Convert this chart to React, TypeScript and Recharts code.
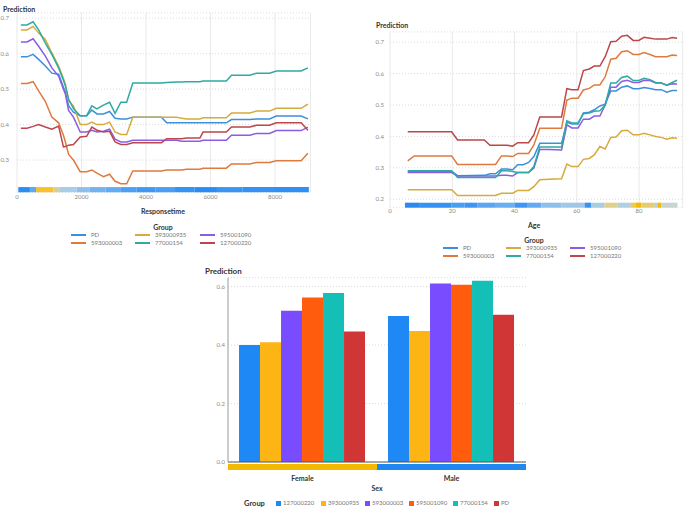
import React from 'react';
import {
  LineChart,
  Line,
  BarChart,
  Bar,
  XAxis,
  YAxis,
  CartesianGrid,
  ReferenceArea,
} from 'recharts';

// ---- shared groups ----
const lineGroups = ['PD', '393000935', '595001090', '593000003', '77000154', '127000220'];
const lineColors: Record<string, string> = {
  PD: '#3d8fdc',
  '393000935': '#d6aa3c',
  '595001090': '#8a5de2',
  '593000003': '#de7a3e',
  '77000154': '#2eaaa2',
  '127000220': '#bb474b',
};

// ---- Responsetime PDP ----
const responseTimes = [120, 310, 500, 670, 880, 1080, 1290, 1440, 1500, 1600, 1750, 1960, 2160, 2320, 2480, 2680, 2870, 3040, 3220, 3400, 3590, 4480, 4640, 4950, 5100, 5260, 5670, 5770, 6490, 6650, 7220, 7420, 7830, 8040, 8810, 9020];
const rtPD = [0.591, 0.591, 0.598, 0.584, 0.565, 0.545, 0.542, 0.505, 0.491, 0.453, 0.435, 0.425, 0.425, 0.441, 0.43, 0.43, 0.437, 0.418, 0.416, 0.416, 0.421, 0.421, 0.405, 0.405, 0.405, 0.405, 0.405, 0.405, 0.405, 0.414, 0.414, 0.416, 0.416, 0.424, 0.424, 0.416];
const rt393000935 = [0.667, 0.667, 0.677, 0.658, 0.64, 0.602, 0.565, 0.53, 0.514, 0.467, 0.453, 0.4, 0.4, 0.407, 0.4, 0.4, 0.407, 0.379, 0.372, 0.372, 0.421, 0.421, 0.421, 0.421, 0.418, 0.416, 0.416, 0.419, 0.419, 0.433, 0.433, 0.438, 0.438, 0.446, 0.446, 0.458];
const rt595001090 = [0.633, 0.633, 0.642, 0.621, 0.593, 0.56, 0.537, 0.5, 0.486, 0.44, 0.421, 0.379, 0.379, 0.384, 0.379, 0.381, 0.387, 0.359, 0.351, 0.351, 0.356, 0.356, 0.356, 0.356, 0.353, 0.353, 0.353, 0.356, 0.356, 0.37, 0.37, 0.375, 0.375, 0.383, 0.383, 0.393];
const rt593000003 = [0.516, 0.516, 0.521, 0.495, 0.465, 0.421, 0.405, 0.37, 0.351, 0.316, 0.3, 0.267, 0.267, 0.272, 0.263, 0.253, 0.26, 0.24, 0.233, 0.233, 0.269, 0.269, 0.272, 0.272, 0.272, 0.274, 0.274, 0.277, 0.277, 0.289, 0.289, 0.293, 0.293, 0.298, 0.298, 0.319];
const rt77000154 = [0.681, 0.681, 0.69, 0.667, 0.63, 0.598, 0.56, 0.525, 0.509, 0.472, 0.445, 0.425, 0.425, 0.453, 0.444, 0.455, 0.463, 0.432, 0.463, 0.463, 0.517, 0.517, 0.519, 0.52, 0.52, 0.521, 0.521, 0.523, 0.523, 0.539, 0.539, 0.545, 0.545, 0.551, 0.551, 0.56];
const rt127000220 = [0.39, 0.39, 0.395, 0.4, 0.393, 0.387, 0.396, 0.337, 0.338, 0.342, 0.344, 0.365, 0.367, 0.393, 0.384, 0.379, 0.381, 0.351, 0.344, 0.344, 0.349, 0.349, 0.36, 0.36, 0.36, 0.362, 0.362, 0.379, 0.379, 0.393, 0.393, 0.398, 0.398, 0.405, 0.405, 0.384];
const rtTicks = [0, 2000, 4000, 6000, 8000];
const rtYTicks = [0.3, 0.4, 0.5, 0.6, 0.7];
// density strip under the curves: [from, to]
const rtRugRanges = [[40, 400], [400, 590], [590, 1130], [1130, 1330], [1330, 1850], [1850, 2260], [2260, 2750], [2750, 3200], [3200, 3700], [3700, 4300], [4300, 4900], [4900, 5500], [5500, 6200], [6200, 7000], [7000, 8000], [8000, 9050]];
const rtRugColors = ['#2b8cf2', '#5ea9ef', '#f7c12e', '#d6cf9c', '#a8cde6', '#8cc0ec', '#72b3ef', '#64acf0', '#4d9ff2', '#3f98f2', '#4a9df2', '#3594f2', '#2a8cf2', '#3a95f2', '#3692f2', '#2f8ff2'];

// ---- Age PDP ----
const ages = [5.7, 7.8, 19.8, 21.7, 30.3, 32.1, 33.9, 35.8, 37.6, 39.4, 41.0, 42.8, 44.5, 46.2, 48.1, 51.1, 55.1, 56.8, 58.4, 60.4, 62.1, 64.0, 65.6, 67.4, 69.1, 70.9, 72.6, 74.4, 76.2, 78.1, 79.9, 81.6, 83.5, 85.3, 87.1, 88.9, 90.6, 92.2];
const agePD = [0.288, 0.288, 0.288, 0.275, 0.276, 0.281, 0.281, 0.296, 0.296, 0.294, 0.31, 0.31, 0.317, 0.336, 0.378, 0.378, 0.378, 0.445, 0.44, 0.44, 0.475, 0.477, 0.485, 0.497, 0.503, 0.545, 0.545, 0.557, 0.561, 0.552, 0.552, 0.556, 0.553, 0.549, 0.549, 0.541, 0.546, 0.546];
const age393000935 = [0.23, 0.23, 0.23, 0.212, 0.212, 0.212, 0.212, 0.219, 0.219, 0.219, 0.228, 0.228, 0.228, 0.24, 0.262, 0.264, 0.265, 0.312, 0.304, 0.304, 0.327, 0.33, 0.341, 0.368, 0.36, 0.397, 0.398, 0.418, 0.42, 0.405, 0.405, 0.41, 0.405, 0.4, 0.397, 0.391, 0.396, 0.394];
const age595001090 = [0.285, 0.285, 0.285, 0.274, 0.274, 0.274, 0.274, 0.276, 0.276, 0.274, 0.285, 0.285, 0.285, 0.299, 0.358, 0.358, 0.357, 0.437, 0.427, 0.427, 0.455, 0.455, 0.465, 0.465, 0.5, 0.557, 0.557, 0.575, 0.579, 0.572, 0.572, 0.579, 0.578, 0.57, 0.57, 0.563, 0.568, 0.567];
const age593000003 = [0.322, 0.338, 0.338, 0.311, 0.311, 0.311, 0.311, 0.338, 0.338, 0.336, 0.346, 0.346, 0.346, 0.373, 0.426, 0.426, 0.426, 0.516, 0.522, 0.522, 0.548, 0.553, 0.564, 0.564, 0.59, 0.646, 0.649, 0.67, 0.673, 0.661, 0.661, 0.667, 0.661, 0.654, 0.654, 0.654, 0.659, 0.658];
const age77000154 = [0.291, 0.291, 0.291, 0.269, 0.269, 0.269, 0.269, 0.291, 0.291, 0.288, 0.285, 0.285, 0.285, 0.304, 0.366, 0.366, 0.366, 0.45, 0.443, 0.443, 0.472, 0.475, 0.48, 0.482, 0.5, 0.57, 0.57, 0.588, 0.592, 0.578, 0.578, 0.585, 0.581, 0.572, 0.57, 0.563, 0.572, 0.579];
const age127000220 = [0.415, 0.415, 0.415, 0.389, 0.389, 0.372, 0.372, 0.372, 0.372, 0.369, 0.38, 0.38, 0.38, 0.405, 0.462, 0.462, 0.462, 0.552, 0.549, 0.549, 0.61, 0.615, 0.624, 0.624, 0.654, 0.702, 0.703, 0.719, 0.722, 0.706, 0.706, 0.716, 0.713, 0.71, 0.71, 0.71, 0.715, 0.713];
const ageTicks = [0, 20, 40, 60, 80];
const ageYTicks = [0.2, 0.3, 0.4, 0.5, 0.6, 0.7];
const ageRugRanges = [[4.8, 9.6], [9.6, 19.8], [19.8, 24], [24, 28], [28, 34], [34, 40], [40, 44], [44, 48.6], [48.6, 55], [55, 62.5], [62.5, 64.6], [64.6, 68.9], [68.9, 73], [73, 77.3], [77.3, 79], [79, 80.7], [80.7, 85], [85, 86], [86, 87.1], [87.1, 92.3]];
const ageRugColors = ['#2a8af0', '#3592f2', '#4a9ef2', '#3d97f2', '#5aa7f0', '#6aaff0', '#3d96f2', '#63aaf0', '#8cc0ea', '#9ec8e6', '#3a93f2', '#a8cce0', '#e0d08a', '#b0cfe0', '#f0c850', '#f5b800', '#e6cc70', '#b0cfe0', '#f5b800', '#c8d4d0'];

// ---- Sex bars ----
const sexes = ['Female', 'Male'];
const barGroups = ['127000220', '393000935', '593000003', '595001090', '77000154', 'PD'];
const barColors: Record<string, string> = {
  '127000220': '#1e88f5',
  '393000935': '#fdb515',
  '593000003': '#7a4cff',
  '595001090': '#ff5c0d',
  '77000154': '#14bfb8',
  PD: '#d03636',
};
const sex127000220 = [0.4, 0.499];
const sex393000935 = [0.409, 0.448];
const sex593000003 = [0.517, 0.61];
const sex595001090 = [0.5625, 0.606];
const sex77000154 = [0.578, 0.6195];
const sexPD = [0.446, 0.503];
const sexRugColors = ['#f5b800', '#1e88f0'];
const sexYTicks = [0, 0.2, 0.4, 0.6];

const FONT = 'Lato, "Open Sans", sans-serif';
const tickStyle = { fontSize: 6, fill: '#8a8a8a', fontFamily: FONT };

const rtData = responseTimes.map((x, i) => ({
  x,
  PD: rtPD[i],
  '393000935': rt393000935[i],
  '595001090': rt595001090[i],
  '593000003': rt593000003[i],
  '77000154': rt77000154[i],
  '127000220': rt127000220[i],
}));

const ageData = ages.map((x, i) => ({
  x,
  PD: agePD[i],
  '393000935': age393000935[i],
  '595001090': age595001090[i],
  '593000003': age593000003[i],
  '77000154': age77000154[i],
  '127000220': age127000220[i],
}));

const sexData = sexes.map((sex, i) => ({
  sex,
  '127000220': sex127000220[i],
  '393000935': sex393000935[i],
  '593000003': sex593000003[i],
  '595001090': sex595001090[i],
  '77000154': sex77000154[i],
  PD: sexPD[i],
}));

const Label = ({ x, y, text, bold = true, size = 7, center = false, color = '#333' }: any) => (
  <div
    style={{
      position: 'absolute',
      left: x,
      top: y - size * 0.6,
      fontSize: size,
      lineHeight: `${size * 1.2}px`,
      fontWeight: bold ? 700 : 400,
      color,
      whiteSpace: 'nowrap',
      transform: center ? 'translateX(-50%)' : undefined,
    }}
  >
    {text}
  </div>
);

// 3x2 legend with line icons
const LineLegend = ({ cols, rowY }: { cols: number[]; rowY: number[] }) => (
  <>
    {lineGroups.map((g, i) => {
      const cx = cols[i % 3];
      const cy = rowY[Math.floor(i / 3)];
      return (
        <React.Fragment key={g}>
          <div
            style={{
              position: 'absolute',
              left: cx,
              top: cy - 0.75,
              width: 15,
              height: 1.5,
              background: lineColors[g],
            }}
          />
          <Label x={cx + 20} y={cy} text={g} bold={false} size={6} color="#777" />
        </React.Fragment>
      );
    })}
  </>
);

const PdpChart = ({ data, width, height, margin, xDomain, xTicks, yDomain, yTicks, yWidth, yTickSize, xTickMargin, rugRanges, rugColors, rugY }: any) => (
  <LineChart width={width} height={height} data={data} margin={margin}>
    <CartesianGrid horizontal={false} stroke="#e9e9e9" />
    <CartesianGrid vertical={false} stroke="#dcdcdc" strokeDasharray="1 2" />
    <XAxis
      dataKey="x"
      type="number"
      domain={xDomain}
      ticks={xTicks}
      axisLine={false}
      tickLine={false}
      tickSize={0}
      tickMargin={xTickMargin}
      height={14}
      tick={tickStyle}
      allowDataOverflow
    />
    <YAxis
      type="number"
      domain={yDomain}
      ticks={yTicks}
      axisLine={false}
      tickLine={false}
      tickSize={yTickSize}
      tickMargin={2}
      width={yWidth}
      tick={tickStyle}
      allowDataOverflow
    />
    {rugRanges.map((r: number[], i: number) => (
      <ReferenceArea
        key={i}
        x1={r[0]}
        x2={r[1]}
        y1={rugY[0]}
        y2={rugY[1]}
        fill={rugColors[i]}
        fillOpacity={1}
        stroke="none"
      />
    ))}
    {lineGroups.map((g) => (
      <Line
        key={g}
        type="linear"
        dataKey={g}
        stroke={lineColors[g]}
        strokeWidth={1.5}
        dot={false}
        isAnimationActive={false}
      />
    ))}
  </LineChart>
);

export default function App() {
  return (
    <div style={{ position: 'relative', width: 685, height: 509, background: '#fff', fontFamily: FONT, overflow: 'hidden' }}>
      <style>{'body{margin:0}'}</style>

      {/* Responsetime */}
      <div style={{ position: 'absolute', left: 0, top: 0 }}>
        <PdpChart
          data={rtData}
          width={330}
          height={210}
          margin={{ top: 12.9, right: 19.5, bottom: 3.7, left: 0 }}
          xDomain={[0, 9100]}
          xTicks={rtTicks}
          yDomain={[0.209, 0.715]}
          yTicks={rtYTicks}
          yWidth={17}
          yTickSize={6}
          xTickMargin={2.2}
          rugRanges={rtRugRanges}
          rugColors={rtRugColors}
          rugY={[0.209, 0.2237]}
        />
      </div>
      <Label x={3} y={9} text="Prediction" />
      <Label x={163} y={211} text="Responsetime" center />
      <Label x={163} y={227} text="Group" center />
      <LineLegend cols={[71, 135, 200]} rowY={[235, 243]} />

      {/* Age */}
      <div style={{ position: 'absolute', left: 340, top: 20 }}>
        <PdpChart
          data={ageData}
          width={345}
          height={215}
          margin={{ top: 11.9, right: 2.3, bottom: 13.3, left: 0 }}
          xDomain={[0, 94]}
          xTicks={ageTicks}
          yDomain={[0.173, 0.733]}
          yTicks={ageYTicks}
          yWidth={50}
          yTickSize={4}
          xTickMargin={1.5}
          rugRanges={ageRugRanges}
          rugColors={ageRugColors}
          rugY={[0.173, 0.189]}
        />
      </div>
      <Label x={376} y={25} text="Prediction" />
      <Label x={534} y={225} text="Age" center />
      <Label x={534} y={240} text="Group" center />
      <LineLegend cols={[443, 506, 570]} rowY={[248, 256]} />

      {/* Sex */}
      <div style={{ position: 'absolute', left: 200, top: 260 }}>
        <BarChart
          width={340}
          height={230}
          data={sexData}
          margin={{ top: 17.7, right: 14, bottom: 3, left: 0 }}
          barCategoryGap="7.4%"
          barGap={0}
        >
          <CartesianGrid vertical={false} stroke="#dcdcdc" strokeDasharray="1 2" />
          <XAxis
            dataKey="sex"
            axisLine={{ stroke: '#555', strokeWidth: 1 }}
            tickLine={false}
            tickSize={0}
            tickMargin={14}
            height={25}
            tick={{ fontSize: 7, fill: '#333', fontWeight: 700, fontFamily: FONT }}
          />
          <YAxis
            type="number"
            domain={[0, 0.63]}
            ticks={sexYTicks}
            tickFormatter={(v: number) => v.toFixed(1)}
            axisLine={{ stroke: '#9a9a9a' }}
            tickLine={false}
            tickSize={0}
            tickMargin={3}
            width={28}
            tick={tickStyle}
          />
          {sexes.map((s, i) => (
            <ReferenceArea
              key={s}
              x1={s}
              x2={s}
              y1={-0.007}
              y2={-0.027}
              fill={sexRugColors[i]}
              fillOpacity={1}
              stroke="none"
              ifOverflow="visible"
            />
          ))}
          {barGroups.map((g) => (
            <Bar key={g} dataKey={g} fill={barColors[g]} isAnimationActive={false} />
          ))}
        </BarChart>
      </div>
      <Label x={205} y={272} text="Prediction" size={8} />
      <Label x={377} y={488} text="Sex" center />
      <Label x={244} y={503} text="Group" size={7.5} />
      {barGroups.map((g, i) => {
        const sx = [276, 321, 365, 409, 453, 494][i];
        return (
          <React.Fragment key={g}>
            <div style={{ position: 'absolute', left: sx, top: 500.5, width: 5, height: 5, background: barColors[g] }} />
            <Label x={sx + 7} y={503} text={g} bold={false} size={6} color="#777" />
          </React.Fragment>
        );
      })}
    </div>
  );
}
